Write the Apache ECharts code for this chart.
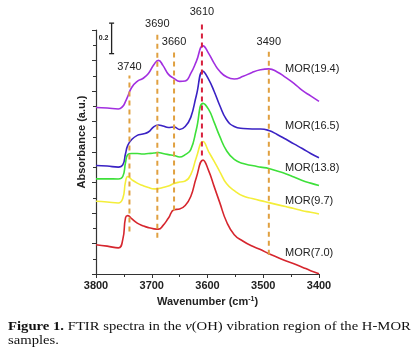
<!DOCTYPE html>
<html><head><meta charset="utf-8">
<script src="https://cdn.jsdelivr.net/npm/echarts@6/dist/echarts.min.js"></script>
<style>html,body{margin:0;padding:0;background:#fff}#c{width:420px;height:357px}</style>
</head><body><div id="c"></div>
<script>
// ---- data ----
const wavenumbers = [3800,3780,3760,3752,3747,3743,3736,3726,3716,3706,3696,3688,3680,3670,3660,3650,3640,3630,3620,3608,3598,3588,3578,3566,3552,3536,3520,3505,3490,3475,3460,3445,3430,3415,3400];
const mor194 = [1.092,1.089,1.082,1.099,1.132,1.165,1.223,1.263,1.282,1.315,1.374,1.401,1.368,1.309,1.282,1.263,1.266,1.315,1.394,1.496,1.447,1.381,1.329,1.293,1.279,1.296,1.322,1.339,1.345,1.325,1.289,1.250,1.204,1.168,1.132];
const mor165 = [0.711,0.708,0.701,0.715,0.790,0.843,0.882,0.909,0.918,0.931,0.967,0.977,0.971,0.961,0.964,0.948,0.967,1.027,1.171,1.329,1.276,1.197,1.105,1.013,0.967,0.954,0.951,0.951,0.941,0.915,0.885,0.853,0.823,0.790,0.762];
const mor138 = [0.624,0.624,0.623,0.639,0.731,0.783,0.790,0.790,0.787,0.790,0.793,0.797,0.790,0.783,0.777,0.767,0.783,0.816,0.948,1.119,1.079,0.994,0.902,0.810,0.751,0.724,0.711,0.701,0.692,0.675,0.658,0.636,0.613,0.596,0.580];
const mor97  = [0.477,0.472,0.466,0.495,0.606,0.639,0.619,0.596,0.580,0.567,0.558,0.560,0.567,0.577,0.593,0.603,0.610,0.652,0.764,0.869,0.803,0.738,0.672,0.593,0.547,0.511,0.495,0.481,0.468,0.455,0.442,0.429,0.415,0.405,0.394];
const mor70  = [0.192,0.183,0.171,0.225,0.370,0.383,0.363,0.334,0.317,0.304,0.296,0.294,0.317,0.367,0.422,0.426,0.449,0.508,0.633,0.747,0.678,0.573,0.468,0.344,0.258,0.215,0.183,0.160,0.133,0.110,0.087,0.068,0.045,0.022,0.002];
const seriesNames = ['MOR(19.4)','MOR(16.5)','MOR(13.8)','MOR(9.7)','MOR(7.0)'];
const seriesValues = [mor194, mor165, mor138, mor97, mor70];

const markerWn = [3740,3690,3660,3610,3490];
const markerTop = [1.302,1.585,1.454,1.660,1.478];
const markerBottom = [0.278,0.238,0.416,0.777,0.127];
const markerLabels = ['3740','3690','3660','3610','3490'];

const xTicks = [3800,3700,3600,3500,3400];
const scaleBarSize = 0.2;
const scaleBarLabel = '0.2';

// ---- layout / style (not data) ----
const colors = ['#a22fe0','#3a22c4','#3ee03a','#f4ee3a','#d6262e'];
const nameAnchor = { wn: 3461, y: [1.342, 0.969, 0.696, 0.481, 0.138] };
const scaleBarPos = { wn: 3772, bottom: 1.445 };
const markerColors = ['#e0a040','#e0a040','#e0a040','#d8203c','#e0a040'];
const labelLift = [8, 8, 10, 9, 7];

const chart = echarts.init(document.getElementById('c'), null, {renderer:'canvas'});
const font = 'Arial, "Liberation Sans", sans-serif';

const lineSeries = seriesValues.map((vals, k) => ({
  type: 'line', name: seriesNames[k], z: 3,
  data: wavenumbers.map((w, i) => [w, vals[i]]),
  showSymbol: false, smooth: 0.5,
  lineStyle: { color: colors[k], width: 1.6 },
  animation: false
}));

const markerSeries = {
  type: 'custom', z: 5, clip: false, animation: false, silent: true,
  data: markerWn.map((w, i) => [w, markerBottom[i], markerTop[i], i]),
  renderItem: (params, api) => {
    const w = api.value(0), i = api.value(3);
    const p0 = api.coord([w, api.value(1)]);
    const p1 = api.coord([w, api.value(2)]);
    return { type: 'group', children: [
      { type: 'line', shape: { x1: p0[0], y1: p0[1], x2: p1[0], y2: p1[1] },
        style: { stroke: markerColors[i], lineWidth: 2, lineDash: [5, 4] } },
      { type: 'text', x: p1[0], y: p1[1] - labelLift[i],
        style: { text: markerLabels[i], fill: '#222', font: '11px ' + font, textAlign: 'center', textVerticalAlign: 'middle' } }
    ]};
  }
};

const nameSeries = {
  type: 'custom', z: 6, clip: false, animation: false, silent: true,
  data: seriesNames.map((n, i) => [nameAnchor.wn, nameAnchor.y[i], i]),
  renderItem: (params, api) => {
    const p = api.coord([api.value(0), api.value(1)]);
    return { type: 'text', x: p[0], y: p[1],
      style: { text: seriesNames[api.value(2)], fill: '#222', font: '11px ' + font, textAlign: 'left', textVerticalAlign: 'middle' } };
  }
};

const scaleSeries = {
  type: 'custom', z: 6, clip: false, animation: false, silent: true,
  data: [[scaleBarPos.wn, scaleBarPos.bottom, scaleBarPos.bottom + scaleBarSize]],
  renderItem: (params, api) => {
    const a = api.coord([api.value(0), api.value(1)]);
    const b = api.coord([api.value(0), api.value(2)]);
    const st = { stroke: '#222', lineWidth: 1.3 };
    return { type: 'group', children: [
      { type: 'line', shape: { x1: a[0], y1: a[1], x2: b[0], y2: b[1] }, style: st },
      { type: 'line', shape: { x1: a[0]-2.5, y1: a[1], x2: a[0]+2.5, y2: a[1] }, style: st },
      { type: 'line', shape: { x1: b[0]-2.5, y1: b[1], x2: b[0]+2.5, y2: b[1] }, style: st },
      { type: 'text', x: a[0] - 8, y: (a[1] + b[1]) / 2,
        style: { text: scaleBarLabel, fill: '#222', font: 'bold 7px ' + font, textAlign: 'center', textVerticalAlign: 'middle' } }
    ]};
  }
};

chart.setOption({
  backgroundColor: '#fff',
  animation: false,
  grid: { left: 96, right: 101, top: 30, bottom: 83 },
  xAxis: {
    type: 'value', inverse: true, min: 3400, max: 3800, interval: 100,
    axisLine: { lineStyle: { color: '#333', width: 1.2 } },
    axisTick: { show: true, length: 4, lineStyle: { color: '#333' } },
    minorTick: { show: true, splitNumber: 2, length: 3, lineStyle: { color: '#333' } },
    splitLine: { show: false },
    axisLabel: { color: '#222', fontWeight: 'bold', fontSize: 11, fontFamily: font, margin: 6,
      formatter: v => xTicks.includes(v) ? String(v) : '' },
    name: 'Wavenumber (cm{sup|-1})', nameLocation: 'middle', nameGap: 17,
    nameTextStyle: { color: '#222', fontWeight: 'bold', fontSize: 11, fontFamily: font,
      rich: { sup: { fontSize: 7, fontWeight: 'bold', fontFamily: font, color: '#222', verticalAlign: 'top', padding: [0,0,6,0] } } }
  },
  yAxis: {
    type: 'value', min: 0, max: 1.6, interval: 0.2,
    axisLine: { show: true, lineStyle: { color: '#333', width: 1.2 } },
    axisTick: { show: true, length: 4, lineStyle: { color: '#333' } },
    minorTick: { show: true, splitNumber: 2, length: 3, lineStyle: { color: '#333' } },
    splitLine: { show: false },
    axisLabel: { show: false },
    name: 'Absorbance (a.u.)', nameLocation: 'middle', nameGap: 9,
    nameTextStyle: { color: '#222', fontWeight: 'bold', fontSize: 11, fontFamily: font, padding: [0,0,0,20] }
  },
  series: [...lineSeries, markerSeries, nameSeries, scaleSeries],
  graphic: [{
    type: 'text', left: 8, top: 320, scaleX: 1.13,
    style: {
      text: '{b|Figure 1.} FTIR spectra in the {i|ν}(OH) vibration region of the H-MOR\nsamples.',
      fontFamily: '"Liberation Serif", "DejaVu Serif", serif', fontSize: 13, fill: '#111', lineHeight: 14,
      rich: {
        b: { fontWeight: 'bold', fontFamily: '"Liberation Serif", serif', fontSize: 13, fill: '#111', lineHeight: 14 },
        i: { fontStyle: 'italic', fontFamily: '"Liberation Serif", serif', fontSize: 13, fill: '#111', lineHeight: 14 }
      }
    }
  }]
});
</script></body></html>
